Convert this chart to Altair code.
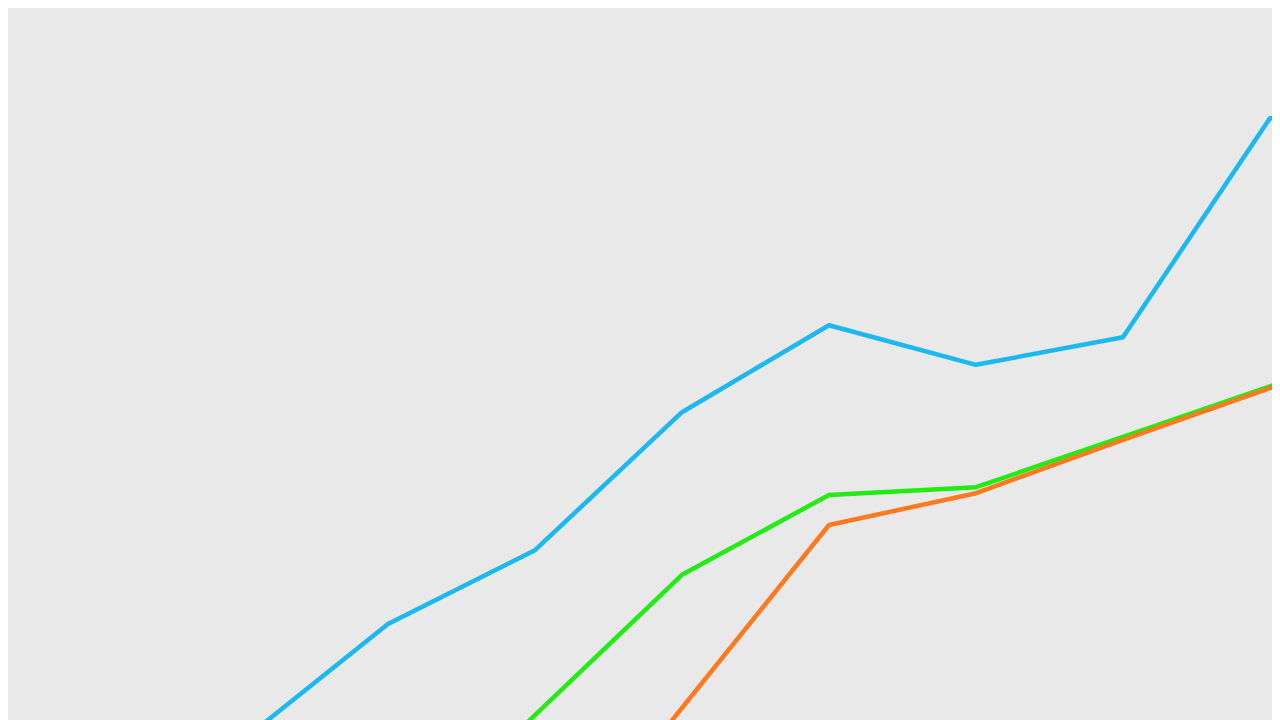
import altair as alt
import pandas as pd

# x positions (period index) and series values
periods = [0, 1, 2, 3, 4, 5, 6, 7, 8]
blue_vals = [16.4, 36.0, 48.3, 71.3, 85.8, 79.2, 83.8, 120.3, 120.0]
green_periods = [1, 2, 3, 4, 5, 6, 7, 8]
green_vals = [-2.6, 20.8, 44.2, 57.5, 58.8, 67.2, 75.6, 84.0]
orange_periods = [2, 3, 4, 5, 6, 7, 8]
orange_vals = [-8.4, 22.0, 52.5, 57.8, 66.7, 75.3, 84.0]

series_names = ["Green", "Orange", "Blue"]
series_colors = ["#22ec14", "#ff7a1e", "#1bb8f2"]

rows = []
for p, v in zip(green_periods, green_vals):
    rows.append({"period": p, "value": v, "series": "Green"})
for p, v in zip(orange_periods, orange_vals):
    rows.append({"period": p, "value": v, "series": "Orange"})
for p, v in zip(periods, blue_vals):
    rows.append({"period": p, "value": v, "series": "Blue"})
df = pd.DataFrame(rows)

x_enc = alt.X("period:Q", scale=alt.Scale(domain=[-1.585, 7.014], nice=False, zero=False), axis=None)
y_enc = alt.Y("value:Q", scale=alt.Scale(domain=[20, 138.67], nice=False, zero=False), axis=None)

layers = []
for name, col in zip(series_names, series_colors):
    layers.append(
        alt.Chart(df)
        .transform_filter(alt.datum.series == name)
        .mark_line(clip=True, strokeWidth=4.5, color=col, strokeJoin="round", strokeCap="round")
        .encode(x=x_enc, y=y_enc, order="period:Q")
    )

chart = (
    alt.layer(*layers)
    .properties(width=1264, height=712, background="#e9e9e9", padding=0,
                autosize=alt.AutoSizeParams(type="none"))
    .configure_view(stroke=None, fill="#e9e9e9")
)

chart.save("out.html", embed_options={"renderer": "svg", "actions": False})
